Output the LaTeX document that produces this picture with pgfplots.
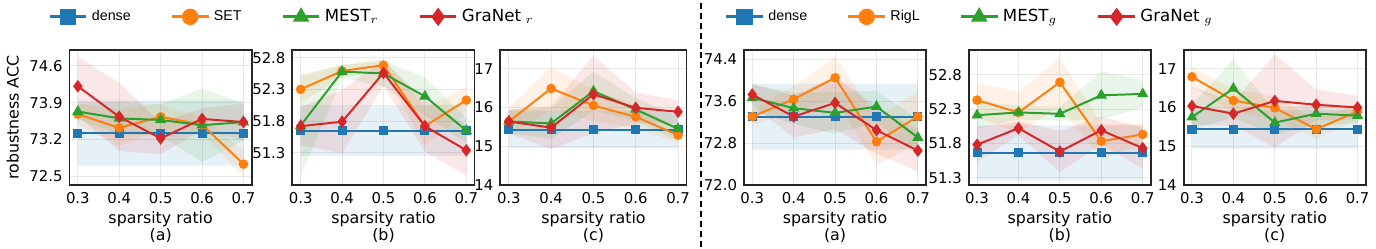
\documentclass[border=0pt]{standalone}
\usepackage{fontspec}
\setmainfont{DejaVu Sans}
\newfontfamily\legfont{Liberation Sans}
\usepackage{pgfplots}
\pgfplotsset{compat=1.18}
\usepackage{pgfplotstable}
\usepgfplotslibrary{fillbetween}
\definecolor{cB}{HTML}{1F77B4}
\definecolor{cO}{HTML}{FF7F0E}
\definecolor{cG}{HTML}{2CA02C}
\definecolor{cR}{HTML}{D62728}

\pgfplotstableread{
x dm ds om os gm gs rm rs
0.3 73.32 0.62 73.68 0.20 73.73 0.15 74.21 0.56
0.4 73.32 0.62 73.42 0.35 73.60 0.30 73.63 0.65
0.5 73.32 0.62 73.63 0.25 73.57 0.30 73.22 0.30
0.6 73.32 0.62 73.48 0.15 73.47 0.70 73.59 0.20
0.7 73.32 0.62 72.73 0.25 73.53 0.35 73.53 0.35
}\tAa
\pgfplotstableread{
x dm ds om os gm gs rm rs
0.3 51.65 0.40 52.30 0.20 51.73 0.80 51.72 0.30
0.4 51.65 0.40 52.59 0.10 52.58 0.10 51.79 0.50
0.5 51.65 0.40 52.68 0.10 52.55 0.20 52.56 0.20
0.6 51.65 0.40 51.72 0.30 52.19 0.30 51.72 0.40
0.7 51.65 0.40 52.13 0.20 51.65 0.20 51.34 0.40
}\tAb
\pgfplotstableread{
x dm ds om os gm gs rm rs
0.3 15.43 0.48 15.64 0.35 15.64 0.30 15.64 0.30
0.4 15.43 0.48 16.49 0.55 15.59 0.40 15.48 0.55
0.5 15.43 0.48 16.05 0.40 16.42 0.50 16.34 1.00
0.6 15.43 0.48 15.76 0.30 15.95 0.30 15.99 0.40
0.7 15.43 0.48 15.29 0.20 15.45 0.30 15.89 0.30
}\tAc
\pgfplotstableread{
x dm ds om os gm gs rm rs
0.3 73.31 0.63 73.31 0.15 73.67 0.25 73.73 0.20
0.4 73.31 0.63 73.64 0.25 73.47 0.30 73.31 0.40
0.5 73.31 0.63 74.05 0.40 73.38 0.40 73.57 0.50
0.6 73.31 0.63 72.83 0.45 73.50 0.30 73.05 0.45
0.7 73.31 0.63 73.31 0.50 72.91 0.35 72.66 0.40
}\tBa
\pgfplotstableread{
x dm ds om os gm gs rm rs
0.3 51.66 0.40 52.43 0.25 52.21 0.20 51.78 0.25
0.4 51.66 0.40 52.25 0.30 52.25 0.10 52.02 0.10
0.5 51.66 0.40 52.69 0.35 52.23 0.10 51.68 0.30
0.6 51.66 0.40 51.83 0.25 52.50 0.35 51.99 0.20
0.7 51.66 0.40 51.93 0.15 52.52 0.20 51.73 0.30
}\tBb
\pgfplotstableread{
x dm ds om os gm gs rm rs
0.3 15.44 0.50 16.79 0.25 15.75 0.30 16.04 0.50
0.4 15.44 0.50 16.18 0.30 16.49 0.75 15.84 0.30
0.5 15.44 0.50 15.99 0.30 15.61 0.30 16.17 1.20
0.6 15.44 0.50 15.44 0.25 15.84 0.30 16.07 0.40
0.7 15.44 0.50 15.90 0.20 15.79 0.20 16.00 0.30
}\tBc

\newcommand{\mfs}{\fontsize{8.4}{9}\selectfont}
\pgfplotsset{
  panel/.style={scale only axis, width=92pt, height=68.25pt, anchor=south west,
    clip mode=individual,
    xmin=0.28, xmax=0.72, xtick={0.3,0.4,0.5,0.6,0.7},
    xticklabels={0.3,0.4,0.5,0.6,0.7},
    grid=major, grid style={black!9, line width=0.5pt},
    major tick length=0pt,
    axis line style={black!85, line width=0.9pt},
    tick label style={font=\fontsize{7.5}{8}\selectfont},
    label style={font=\fontsize{8}{9}\selectfont},
    xlabel={sparsity ratio},
    xlabel style={yshift=3pt},
    /pgf/number format/assume math mode=true,
    legend columns=4,
    legend style={draw=none, fill=none, anchor=center, font=\legfont\fontsize{7.2}{8}\selectfont,
      /tikz/every even column/.append style={column sep=18pt}},
    legend image code/.code={\draw[line width=1.5pt,mark repeat=2,mark phase=2,mark size=3.4pt] plot coordinates {(0pt,0pt) (9.25pt,0pt) (18.5pt,0pt)};},
  },
  sD/.style={cB, line width=1pt, mark=square*, mark size=1.8pt, mark options={solid}},
  sO/.style={cO, line width=1pt, mark=*, mark size=1.9pt, mark options={solid}},
  sG/.style={cG, line width=1pt, mark=triangle*, mark size=2.3pt, mark options={solid}},
  sR/.style={cR, line width=1pt, mark=diamond*, mark size=2.4pt, mark options={solid}},
}
\newcommand{\band}[4]{%
  \addplot[name path=up#2, draw=none, forget plot] table[x=x, y expr=\thisrow{#2}+\thisrow{#3}] {#1};
  \addplot[name path=lo#2, draw=none, forget plot] table[x=x, y expr=\thisrow{#2}-\thisrow{#3}] {#1};
  \addplot[fill=#4, fill opacity=0.11, draw=none, forget plot] fill between[of=up#2 and lo#2];
}
\newcommand{\panel}[2]{%
  \band{#1}{dm}{ds}{cB}
  \band{#1}{om}{os}{cO}
  \band{#1}{gm}{gs}{cG}
  \band{#1}{rm}{rs}{cR}
  \addplot[sD] table[x=x,y=dm]{#1};
  \addplot[sO] table[x=x,y=om]{#1};
  \addplot[sG] table[x=x,y=gm]{#1};
  \addplot[sR] table[x=x,y=rm]{#1};
  \node[font=\fontsize{8}{9}\selectfont] at (axis description cs:0.5,-0.37) {(#2)};
}

\begin{document}
\begin{tikzpicture}
\path (0,0) rectangle (688pt,124pt);
% left group
\begin{axis}[panel, at={(28.5pt,31pt)}, ymin=72.33, ymax=74.9,
  ytick={72.5,73.2,73.9,74.6}, yticklabels={72.5,73.2,73.9,74.6},
  ylabel={robustness ACC}, ylabel style={yshift=-1.5pt},
  legend entries={dense,SET,{\mfs$\mathrm{MEST}_r$},{\mfs$\mathrm{GraNet}\;{}_r$}},
  legend style={at={(1.227,1.245)}}]
\panel{\tAa}{a}
\end{axis}
\begin{axis}[panel, at={(141pt,31pt)}, ymin=50.79, ymax=52.92,
  ytick={51.3,51.8,52.3,52.8}, yticklabels={51.3,51.8,52.3,52.8}]
\panel{\tAb}{b}
\end{axis}
\begin{axis}[panel, width=94pt, at={(246pt,31pt)}, ymin=14, ymax=17.48,
  ytick={14,15,16,17}, yticklabels={14,15,16,17}]
\panel{\tAc}{c}
\end{axis}
% separator
\draw[black, line width=1pt, dash pattern=on 3pt off 2pt] (347.5pt,0pt) -- (347.5pt,124pt);
% right group
\begin{axis}[panel, at={(369pt,31pt)}, ymin=72.0, ymax=74.58,
  ytick={72.0,72.8,73.6,74.4}, yticklabels={72.0,72.8,73.6,74.4},
  legend entries={dense,RigL,{\mfs$\mathrm{MEST}_g$},{\mfs$\mathrm{GraNet}\;{}_g$}},
  legend style={at={(1.245,1.245)}}]
\panel{\tBa}{a}
\end{axis}
\begin{axis}[panel, at={(482.5pt,31pt)}, ymin=51.19, ymax=53.16,
  ytick={51.3,51.8,52.3,52.8}, yticklabels={51.3,51.8,52.3,52.8}]
\panel{\tBb}{b}
\end{axis}
\begin{axis}[panel, at={(591pt,31pt)}, ymin=14, ymax=17.48,
  ytick={14,15,16,17}, yticklabels={14,15,16,17}]
\panel{\tBc}{c}
\end{axis}
\end{tikzpicture}
\end{document}
